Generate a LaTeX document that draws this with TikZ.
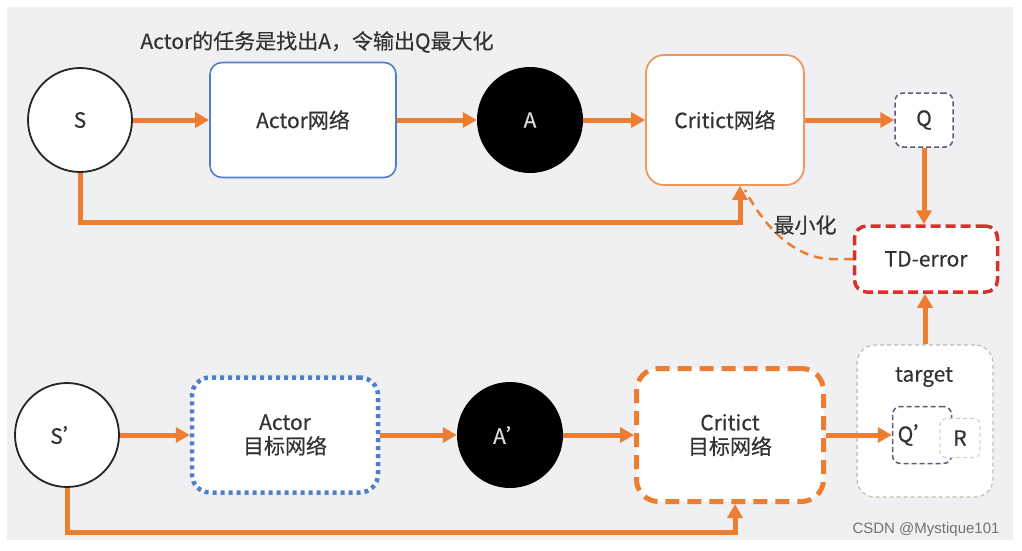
\documentclass[tikz,border=0pt]{standalone}
\usepackage{fontspec}
\setmainfont{Noto Sans CJK SC}[FakeBold=0.4]
\newfontfamily\wmfont{Liberation Sans}
\usetikzlibrary{arrows.meta}

\definecolor{panelgray}{HTML}{F0F0F2}
\definecolor{flowor}{HTML}{ED7D31}
\definecolor{actblue}{HTML}{4F7FC8}
\definecolor{tdred}{HTML}{D9302A}
\definecolor{qgray}{HTML}{5C5C78}
\definecolor{tgtgreen}{HTML}{B9C3AB}
\definecolor{txtgray}{HTML}{333333}

\begin{document}
\begin{tikzpicture}[x=1pt,y=-1pt,
    every node/.style={text=txtgray,font=\fontsize{21}{24}\selectfont},
    flow/.style={draw=flowor,line width=5pt,-{Triangle[length=14pt,width=15pt]}},
    minline/.style={draw=flowor,line width=2.5pt,dash pattern=on 9pt off 6pt},
    state/.style={circle,draw=black!85,line width=1.8pt,fill=white,minimum size=104pt,inner sep=0pt},
    action/.style={circle,fill=black,minimum size=106pt,inner sep=0pt,text=white!85!black},
    net/.style={rectangle,fill=white,inner sep=0pt,align=center},
    smallbox/.style={rectangle,fill=white,inner sep=0pt,rounded corners=8pt}
]

    % Background
    \fill[white] (0,0) rectangle (1022,550);
    \fill[panelgray] (7,7) rectangle (1013,540);

    % Title
    \node (title) at (317,42) {Actor的任务是找出A，令输出Q最大化};

    % Online row
    \node[state] (s) at (80,120) {S};
    \node[net,draw=actblue,line width=1.6pt,rounded corners=12pt,
          minimum width=186pt,minimum height=115pt] (actor) at (303,120) {Actor网络};
    \node[action] (a) at (530,120) {A};
    \node[net,draw=flowor!80,line width=1.8pt,rounded corners=18pt,
          minimum width=158pt,minimum height=130pt] (critic) at (725,120) {Critict网络};
    \node[smallbox,draw=qgray,line width=1.5pt,dash pattern=on 5pt off 3pt,
          minimum width=58pt,minimum height=54pt] (q) at (924,120) {Q};

    % TD-error
    \node[net,draw=tdred,line width=3.5pt,dash pattern=on 10pt off 5pt,rounded corners=12pt,
          minimum width=143pt,minimum height=66pt] (td) at (926,259) {TD-error};

    % Target row
    \node[state] (s2) at (67,435) {S'};
    \node[net,draw=actblue,line width=4.5pt,dash pattern=on 4pt off 4pt,rounded corners=18pt,
          minimum width=186pt,minimum height=115pt] (actort) at (285,435) {Actor\\目标网络};
    \node[action] (a2) at (510,435) {A'};
    \node[net,draw=flowor,line width=5pt,dash pattern=on 14pt off 8pt,rounded corners=22pt,
          minimum width=187pt,minimum height=133pt] (critict) at (730,435) {Critict\\目标网络};

    % target box with Q' and R
    \node[net,draw=tgtgreen,line width=1.2pt,dash pattern=on 4pt off 3pt,rounded corners=18pt,
          minimum width=136pt,minimum height=152pt] (target) at (925,421) {};
    \node (tlabel) at (924,377) {target};
    \node[smallbox,draw=qgray,line width=1.5pt,dash pattern=on 5pt off 3pt,
          minimum width=59pt,minimum height=57pt] (q2) at (922,435) {\hspace*{-12pt}Q'};
    \node[smallbox,draw=tgtgreen!70,line width=1.2pt,dash pattern=on 4pt off 3pt,rounded corners=6pt,
          minimum width=40pt,minimum height=39pt] (r) at (960,438) {R};

    % Forward arrows
    \foreach \from/\to in {s/actor, actor/a, a/critic, critic/q, s2/actort, actort/a2, a2/critict}
        \draw[flow] (\from.east) -- (\to.west);
    \draw[flow] (critict.east) -- (q2.west);
    \draw[flow] (q.south) -- (td.north -| q.south);
    \draw[flow] (target.north) -- (td.south -| target.north);

    % Feedback from the states
    \coordinate (fb) at (740,222);
    \coordinate (fb2) at (735,532);
    \draw[flow,line join=miter] (s.south) |- (fb) -- (critic.south -| fb);
    \draw[flow,line join=miter] (s2.south) |- (fb2) -- (critict.south -| fb2);

    % Minimise TD-error
    \coordinate (mn) at (745,190);
    \draw[minline] (td.west) -- ++(-22,0) .. controls (795,258) and (765,228) .. (mn);
    \node (minlabel) at (805,225) {最小化};

    % Watermark
    \node[font=\wmfont\fontsize{15}{17}\selectfont,text=black!55] (wm) at (926,530) {CSDN @Mystique101};

\end{tikzpicture}
\end{document}
